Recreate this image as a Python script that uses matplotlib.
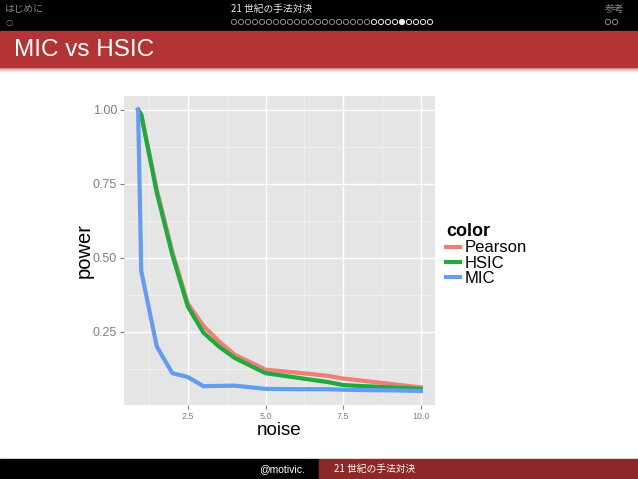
import numpy as np
import matplotlib.pyplot as plt
from matplotlib.patches import Rectangle, Circle

plt.rcParams['font.family'] = ['Liberation Sans', 'DejaVu Sans']

noise = [0.9, 1.0, 1.5, 2.0, 2.5, 3.0, 3.5, 4.0, 5.0, 6.0, 7.0, 7.5, 8.0, 9.0, 10.0]
pearson = [1.0, 0.985, 0.73, 0.52, 0.345, 0.27, 0.218, 0.173, 0.122, 0.112, 0.101, 0.092, 0.086, 0.074, 0.062]
hsic = [1.0, 0.983, 0.72, 0.51, 0.335, 0.247, 0.2, 0.162, 0.11, 0.095, 0.08, 0.07, 0.067, 0.062, 0.057]
mic = [1.0, 0.455, 0.20, 0.11, 0.097, 0.066, 0.067, 0.068, 0.057, 0.056, 0.056, 0.054, 0.053, 0.052, 0.050]
methods = ["Pearson", "HSIC", "MIC"]
colors = ["#EE7F76", "#1EAA3C", "#629DF0"]

jp = ['Noto Sans CJK JP', 'DejaVu Sans']

fig = plt.figure(figsize=(6.38, 4.79), dpi=100)

# slide background (pixel coords)
bg = fig.add_axes([0, 0, 1, 1])
bg.set_xlim(0, 638)
bg.set_ylim(479, 0)
bg.axis("off")
bg.add_patch(Rectangle((0, 0), 638, 31, color="black"))
bg.add_patch(Rectangle((0, 31), 638, 36, color="#B33434"))
for i in range(5):
    bg.add_patch(Rectangle((0, 67 + i), 638, 1, color="#B33434", alpha=0.6 - i * 0.12, lw=0))
bg.add_patch(Rectangle((0, 459), 319, 20, color="black"))
bg.add_patch(Rectangle((319, 459), 319, 20, color="#8E2727"))

bg.text(5, 9, "はじめに", color="#8c8c8c", fontsize=7, family=jp, va="center")
bg.text(6, 22, "○", color="#8c8c8c", fontsize=6, family=['DejaVu Sans'], va="center")
bg.text(231, 9, "21 世紀の手法対決", color="#e8e8e8", fontsize=7, family=jp, va="center")
bg.text(605, 9, "参考", color="#8c8c8c", fontsize=7, family=jp, va="center")
for k in range(2):
    bg.add_patch(Circle((608 + k * 7, 22), 2.6, fill=False, ec="#8c8c8c", lw=0.7))
for k in range(29):
    if k < 20:
        c = "#8c8c8c"
    else:
        c = "#f0f0f0"
    bg.add_patch(Circle((234 + k * 7, 22), 2.6, fill=(k == 24), fc=c, ec=c, lw=0.7))

bg.text(14, 50, "MIC vs HSIC", color="white", fontsize=17.5, va="center")
bg.text(282, 469, "@motivic.", color="white", fontsize=7.5, ha="center", va="center")
bg.text(334, 469, "21 世紀の手法対決", color="white", fontsize=7, family=jp, va="center")

# chart
ax = fig.add_axes([124 / 638, 1 - 405 / 479, 311 / 638, 309.3 / 479])
ax.set_facecolor("#E5E5E5")
for name, vals, c in zip(methods, [pearson, hsic, mic], colors):
    ax.plot(noise, vals, color=c, lw=3, label=name, solid_joinstyle="round")
ax.margins(x=0.05, y=0.05)
ax.set_xticks([2.5, 5.0, 7.5, 10.0])
ax.set_xticklabels(["2.5", "5.0", "7.5", "10.0"])
ax.set_yticks([0.25, 0.50, 0.75, 1.00])
ax.set_yticklabels(["0.25", "0.50", "0.75", "1.00"])
ax.set_xticks([1.25, 3.75, 6.25, 8.75], minor=True)
ax.set_yticks([0.125, 0.375, 0.625, 0.875], minor=True)
ax.grid(which="major", color="white", lw=1.0)
ax.grid(which="minor", color="#F2F2F2", lw=0.5)
ax.set_axisbelow(True)
for s in ax.spines.values():
    s.set_visible(False)
ax.tick_params(axis="y", which="major", labelsize=9, labelcolor="#808080", color="#808080", length=3, pad=2)
ax.tick_params(axis="x", which="major", labelsize=6.5, labelcolor="#808080", color="#808080", length=3, pad=2)
ax.tick_params(which="minor", length=0)
ax.set_xlabel("noise", fontsize=13.5, labelpad=1)
ax.set_ylabel("power", fontsize=14.5, labelpad=-1)

leg = ax.legend(title="color", loc="upper left", bbox_to_anchor=(1.01, 0.615), frameon=False,
                fontsize=12, title_fontproperties={"weight": "bold", "size": 13},
                handlelength=0.8, handletextpad=0.3, labelspacing=0.02, borderpad=0,
                alignment="left")
leg.get_title().set_position((0, 0))

fig.savefig("out.png", dpi=100)
